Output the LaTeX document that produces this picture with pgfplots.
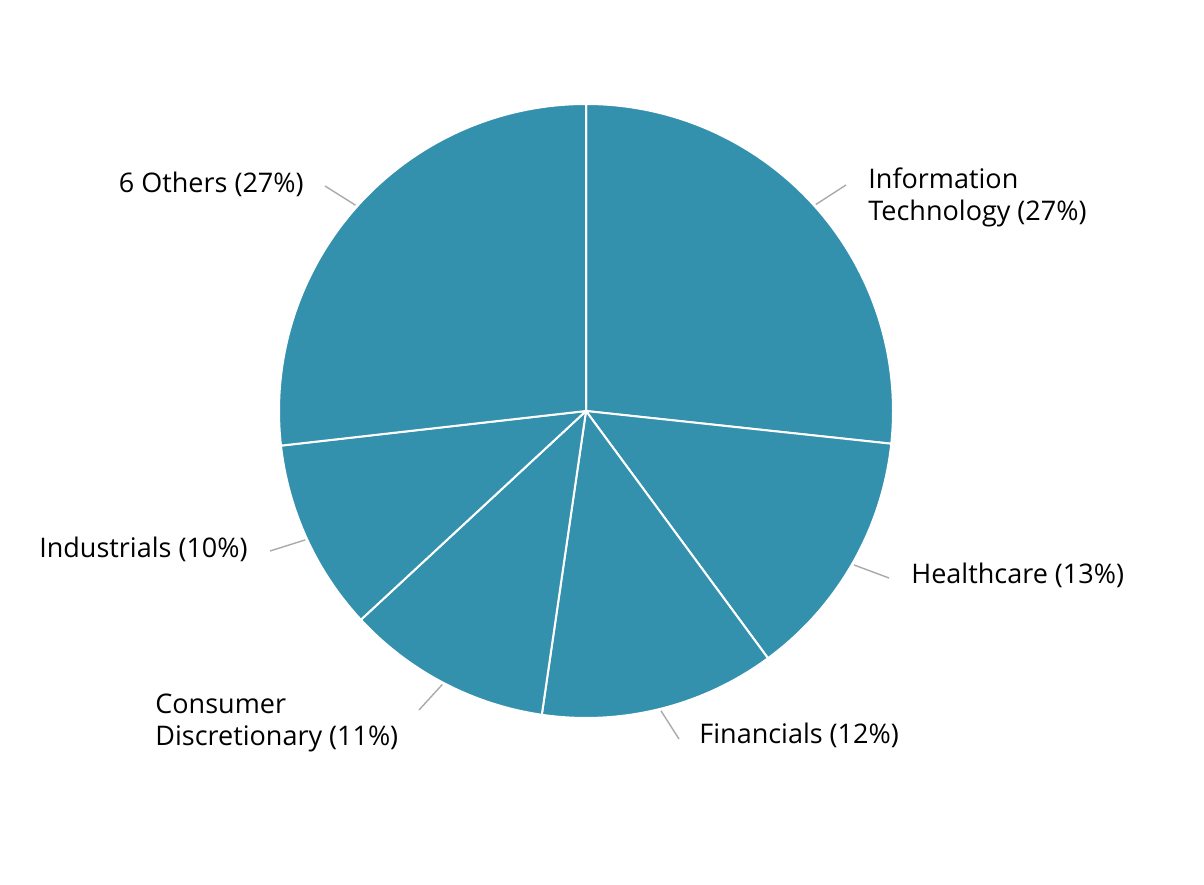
\documentclass[border=0pt]{standalone}
\usepackage{pgfplots}
\pgfplotsset{compat=1.18}
\usepackage{pgfplotstable}
\usepackage{fontspec}
\setmainfont{Open Sans}
\definecolor{slice}{RGB}{51,145,174}
\definecolor{leader}{RGB}{170,170,170}

\pgfplotstableread{
sector value
IT 26.7
HC 13.2
FIN 12.4
CD 10.8
IND 10.1
OTH 26.8
}\piedata

\begin{document}
\begin{tikzpicture}
\def\cum{0}
\foreach \i in {0,...,5}{%
  \pgfplotstablegetelem{\i}{value}\of\piedata
  \pgfmathsetmacro\a{90-\cum*3.6}%
  \pgfmathsetmacro\newcum{\cum+\pgfplotsretval}%
  \pgfmathsetmacro\b{90-\newcum*3.6}%
  \pgfmathsetmacro\m{(\a+\b)/2}%
  \expandafter\xdef\csname sa\i\endcsname{\a}%
  \expandafter\xdef\csname sb\i\endcsname{\b}%
  \expandafter\xdef\csname sm\i\endcsname{\m}%
  \xdef\cum{\newcum}%
}
\begin{axis}[
  width=602pt, height=442pt, scale only axis,
  xmin=0, xmax=1204, ymin=0, ymax=884,
  hide axis, clip=false,
]
\path (axis cs:0,0) rectangle (axis cs:1204,884);
\pgfplotsinvokeforeach{0,...,5}{
  \fill[slice, draw=white, line width=1pt, line join=round]
    (axis cs:586,473) -- ++(\csname sa#1\endcsname:153.5pt)
    arc[start angle=\csname sa#1\endcsname, end angle=\csname sb#1\endcsname, radius=153.5pt] -- cycle;
}
\begin{scope}[leader, line width=0.7pt]
\draw (axis cs:586,473) ++(\csname sm0\endcsname:154.5pt) -- (axis cs:846,699);
\draw (axis cs:586,473) ++(\csname sm1\endcsname:154.5pt) -- (axis cs:889,306);
\draw (axis cs:586,473) ++(\csname sm2\endcsname:154.5pt) -- (axis cs:679,145);
\draw (axis cs:586,473) ++(\csname sm3\endcsname:154.5pt) -- (axis cs:419,174);
\draw (axis cs:586,473) ++(\csname sm4\endcsname:154.5pt) -- (axis cs:270,333);
\draw (axis cs:586,473) ++(\csname sm5\endcsname:154.5pt) -- (axis cs:325,698);
\end{scope}
\begin{scope}[every node/.style={inner sep=0pt, font=\fontsize{13.5pt}{16pt}\selectfont, align=left}]
\node[anchor=west] at (axis cs:868,687) {Information\\Technology (27\%)};
\node[anchor=west] at (axis cs:911,309) {Healthcare (13\%)};
\node[anchor=west] at (axis cs:699,149) {Financials (12\%)};
\node[anchor=west] at (axis cs:155,161) {Consumer\\Discretionary (11\%)};
\node[anchor=east] at (axis cs:248,335) {Industrials (10\%)};
\node[anchor=east] at (axis cs:304,700) {6 Others (27\%)};
\end{scope}
\end{axis}
\end{tikzpicture}
\end{document}
